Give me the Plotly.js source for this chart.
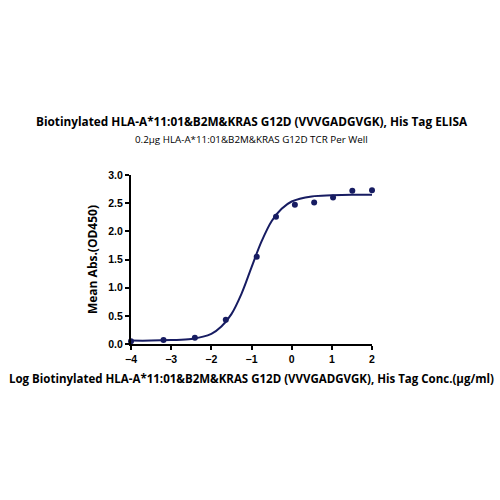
<!DOCTYPE html>
<html>
<head>
<meta charset="utf-8">
<script src="https://cdn.plot.ly/plotly-3.0.1.min.js"></script>
<style>
  html, body { margin: 0; padding: 0; background: #fff; }
  #graphDiv { width: 500px; height: 500px; }
</style>
</head>
<body>
<div id="graphDiv"></div>
<script>
// measured points: log concentration vs mean OD450
const logConc = [-4.0, -3.19, -2.41, -1.64, -0.87, -0.39, 0.08, 0.56, 1.03, 1.51, 2.0];
const meanAbs = [0.05, 0.07, 0.11, 0.43, 1.55, 2.26, 2.47, 2.51, 2.60, 2.72, 2.73];

// fitted curve
const fitX = [-4.0, -3.5, -3.0, -2.5, -2.0, -1.75, -1.5, -1.25, -1.0, -0.75, -0.5, -0.25, 0.0, 0.5, 1.0, 1.5, 2.0];
const fitY = [0.06, 0.06, 0.07, 0.09, 0.18, 0.31, 0.53, 0.89, 1.36, 1.82, 2.18, 2.40, 2.53, 2.62, 2.64, 2.65, 2.65];

const xTicks = [-4, -3, -2, -1, 0, 1, 2];
const yTicks = [0, 0.5, 1.0, 1.5, 2.0, 2.5, 3.0];

const navy = "#171c62";
const titleFont = "Open Sans, Noto Sans, sans-serif";
const tickFont = "Liberation Sans, Arial, sans-serif";

function onPageLoad() {
    const curve = {
        x: fitX, y: fitY,
        mode: "lines", type: "scatter",
        line: {color: navy, width: 2, shape: "spline", smoothing: 1},
        hoverinfo: "skip"
    };
    const pts = {
        x: logConc, y: meanAbs,
        mode: "markers", type: "scatter",
        marker: {color: navy, size: 6},
        cliponaxis: false
    };
    const tf = {family: tickFont, size: 10.5, color: "#000", weight: 700};
    const layout = {
        width: 500, height: 500,
        margin: {l: 131, r: 128, t: 175, b: 156},
        showlegend: false,
        paper_bgcolor: "#fff", plot_bgcolor: "#fff",
        xaxis: {
            range: [-4, 2], tickvals: xTicks,
            ticks: "outside", ticklen: 4, tickwidth: 2, tickcolor: "#000",
            showline: true, linecolor: "#000", linewidth: 2,
            showgrid: false, zeroline: false,
            tickfont: tf
        },
        yaxis: {
            range: [0, 3], tickvals: yTicks, tickformat: ".1f",
            ticks: "outside", ticklen: 4, tickwidth: 2, tickcolor: "#000",
            showline: true, linecolor: "#000", linewidth: 2,
            showgrid: false, zeroline: false,
            tickfont: tf,
            title: {text: "<b>Mean Abs.(OD450)</b>",
                    font: {family: titleFont, size: 12, color: "#000"}, standoff: 8}
        },
        annotations: [
            {text: "<b>Biotinylated HLA-A*11:01&amp;B2M&amp;KRAS G12D (VVVGADGVGK), His Tag ELISA</b>",
             xref: "paper", yref: "paper", x: 0.5, y: (500 - 121 - 156) / 169,
             yanchor: "middle", showarrow: false,
             font: {family: titleFont, size: 11.8, color: "#000"}},
            {text: "0.2μg HLA-A*11:01&amp;B2M&amp;KRAS G12D TCR Per Well",
             xref: "paper", yref: "paper", x: 0.5, y: (500 - 139 - 156) / 169,
             yanchor: "middle", showarrow: false,
             font: {family: titleFont, size: 9.8, color: "#000"}},
            {text: "<b>Log Biotinylated HLA-A*11:01&amp;B2M&amp;KRAS G12D (VVVGADGVGK), His Tag Conc.(μg/ml)</b>",
             xref: "paper", yref: "paper", x: (251 - 131) / 241, y: (500 - 378 - 156) / 169,
             xanchor: "center", yanchor: "middle", showarrow: false,
             font: {family: titleFont, size: 11.5, color: "#000"}}
        ]
    };
    Plotly.newPlot("graphDiv", [curve, pts], layout, {displayModeBar: false, staticPlot: true});
}
onPageLoad();
</script>
</body>
</html>
